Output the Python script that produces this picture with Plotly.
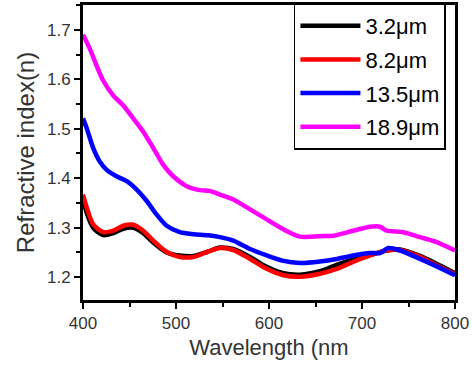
import plotly.graph_objects as go

wl_black = [401, 404, 411, 421.8, 432.6, 443.3, 454, 464.8, 475.6, 490, 504, 518.6, 534.7, 547.3, 561.6, 579.6, 597.5, 615.4, 633.3, 654.8, 672.7, 690.6, 708.6, 726.5, 741, 762.4, 780.3, 800]
n_black = [1.352, 1.330, 1.300, 1.285, 1.289, 1.298, 1.300, 1.289, 1.270, 1.250, 1.244, 1.243, 1.252, 1.260, 1.257, 1.241, 1.221, 1.208, 1.205, 1.212, 1.225, 1.236, 1.245, 1.254, 1.256, 1.243, 1.227, 1.208]

wl_red = [400, 404, 411, 421.8, 432.6, 443.3, 454, 464.8, 475.6, 490, 504.3, 518.6, 534.7, 547.3, 561.6, 579.6, 597.5, 615.4, 633.3, 654.8, 672.7, 690.6, 708.6, 726.5, 741, 762.4, 780.3, 800]
n_red = [1.367, 1.341, 1.307, 1.291, 1.294, 1.304, 1.306, 1.294, 1.274, 1.251, 1.241, 1.241, 1.252, 1.259, 1.255, 1.237, 1.217, 1.204, 1.201, 1.207, 1.217, 1.231, 1.244, 1.254, 1.255, 1.241, 1.224, 1.206]

wl_blue = [400, 404, 411, 418, 425.5, 436, 447, 457.7, 468.5, 479, 490, 504, 518.6, 534.7, 547.3, 561.6, 579.6, 597.5, 615.4, 633.3, 654.8, 672.7, 690.6, 708.6, 719.4, 728.3, 741, 762.4, 780.3, 800]
n_blue = [1.521, 1.501, 1.461, 1.434, 1.417, 1.404, 1.394, 1.377, 1.354, 1.327, 1.304, 1.291, 1.287, 1.285, 1.281, 1.274, 1.257, 1.244, 1.233, 1.229, 1.232, 1.237, 1.244, 1.249, 1.249, 1.259, 1.254, 1.237, 1.222, 1.204]

wl_mag = [400, 407.5, 414.7, 421.8, 432.6, 443.3, 454, 464.8, 475.6, 486.3, 497, 511.5, 525.8, 536.6, 547.3, 561.6, 579.6, 597.5, 615.4, 633.3, 654.8, 669, 690.6, 708.6, 719.4, 726.5, 744.4, 762.4, 780.3, 800]
n_mag = [1.690, 1.661, 1.627, 1.597, 1.567, 1.547, 1.521, 1.494, 1.461, 1.427, 1.404, 1.384, 1.376, 1.374, 1.367, 1.357, 1.337, 1.317, 1.297, 1.282, 1.283, 1.284, 1.294, 1.302, 1.302, 1.294, 1.291, 1.281, 1.271, 1.254]

series = [
    ("3.2\u03bcm", wl_black, n_black, "#000000"),
    ("8.2\u03bcm", wl_red, n_red, "#ff0000"),
    ("13.5\u03bcm", wl_blue, n_blue, "#0000ff"),
    ("18.9\u03bcm", wl_mag, n_mag, "#ff00ff"),
]

FONT = "Liberation Sans, Arial, sans-serif"

fig = go.Figure()
for i, (name, x, y, c) in enumerate(series):
    fig.add_trace(go.Scatter(x=x, y=y, mode="lines", name=name, legendgroup=str(i),
                             line=dict(color=c, width=4.5, shape="spline", smoothing=0.8)))

axis_common = dict(showline=True, linecolor="black", linewidth=3, mirror=True,
                   ticks="outside", tickwidth=2, ticklen=6, tickcolor="black",
                   showgrid=False, zeroline=False,
                   tickfont=dict(family=FONT, size=17, color="#333333"))

fig.update_xaxes(range=[400, 800], dtick=100, tick0=400,
                 minor=dict(ticks="outside", dtick=50, ticklen=4, tickwidth=2, tickcolor="black"),
                 title=dict(text="Wavelength (nm", font=dict(family=FONT, size=22, color="#333333"), standoff=8),
                 **axis_common)
fig.update_yaxes(range=[1.154, 1.75], dtick=0.1, tick0=1.2, tickformat=".1f",
                 minor=dict(ticks="outside", dtick=0.05, ticklen=4, tickwidth=2, tickcolor="black"),
                 title=dict(text="Refractive index(n)", font=dict(family=FONT, size=24, color="#333333"), standoff=6),
                 **axis_common)

fig.update_layout(
    width=474, height=369,
    margin=dict(l=83, r=19, t=2, b=69),
    plot_bgcolor="white", paper_bgcolor="white",
    legend=dict(x=0.567, y=1.005, xanchor="left", yanchor="top",
                bgcolor="white", bordercolor="black", borderwidth=1.5,
                font=dict(family=FONT, size=22, color="black"),
                itemwidth=60, tracegroupgap=2),
)

fig.write_html("out.html")
